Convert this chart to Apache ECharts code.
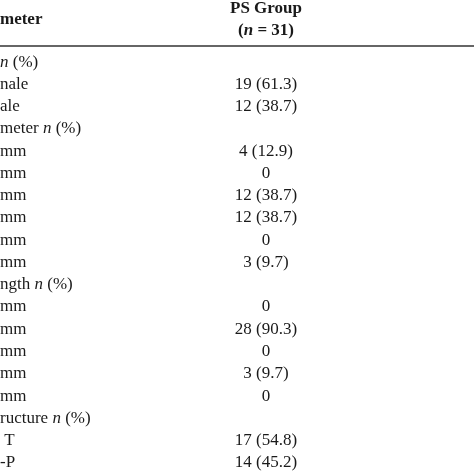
<!DOCTYPE html>
<html><head><meta charset="utf-8">
<script src="https://cdn.jsdelivr.net/npm/echarts@6/dist/echarts.min.js"></script>
<style>html,body{margin:0;padding:0;background:#fff}#c{width:474px;height:474px}</style>
</head><body><div id="c"></div>
<script>
var rowLabels = ['{i|n} (%)','nale','ale','meter {i|n} (%)','mm','mm','mm','mm','mm','mm','ngth {i|n} (%)','mm','mm','mm','mm','mm','ructure {i|n} (%)',' T','-P'];
var psValues = ['', '19 (61.3)','12 (38.7)','','4 (12.9)','0','12 (38.7)','12 (38.7)','0','3 (9.7)','','0','28 (90.3)','0','3 (9.7)','0','','17 (54.8)','14 (45.2)'];
var headerLeft = 'meter';
var headerGroup = 'PS Group';
var headerN = '{i|n} = 31)';
var rows = rowLabels.map(function(_, i){ return i; });
var FONT = '"Liberation Serif", "DejaVu Serif", serif';
var chart = echarts.init(document.getElementById('c'));
var rich = {i:{fontStyle:'italic', fontFamily:FONT, fontSize:17, fill:'#1a1a1a'}};
chart.setOption({
  animation:false,
  grid:{left:0,right:0,top:51,bottom:0},
  xAxis:{type:'value',min:0,max:474,show:false},
  yAxis:{type:'category',data:rows,inverse:true,show:false},
  graphic:[
    {type:'text',left:0,top:11,style:{text:headerLeft,font:'bold 17px '+FONT,fill:'#1a1a1a'}},
    {type:'text',x:266,y:9,style:{text:headerGroup,font:'bold 17px '+FONT,fill:'#1a1a1a',align:'center',verticalAlign:'middle'}},
    {type:'text',x:266,y:31,style:{text:'('+headerN,font:'bold 17px '+FONT,fill:'#1a1a1a',align:'center',verticalAlign:'middle',rich:{i:{fontStyle:'italic',fontWeight:'bold',fontFamily:FONT,fontSize:17}}}},
    {type:'line',shape:{x1:0,y1:46,x2:474,y2:46},style:{stroke:'#666',lineWidth:2}}
  ],
  series:[{
    type:'custom',
    data:rows.map(function(i){return [0,i];}),
    renderItem:function(params, api){
      var idx = api.value(1);
      var p = api.coord([0, idx]);
      return {type:'group',children:[
        {type:'text',style:{x:0,y:p[1],text:rowLabels[idx],font:'17px '+FONT,fill:'#1a1a1a',verticalAlign:'middle',rich:rich}},
        {type:'text',style:{x:266,y:p[1],text:psValues[idx],font:'17px '+FONT,fill:'#1a1a1a',align:'center',verticalAlign:'middle'}}
      ]};
    }
  }]
});
</script></body></html>
